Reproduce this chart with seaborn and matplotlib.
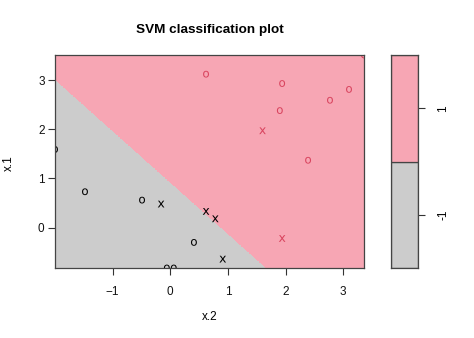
import numpy as np
import pandas as pd
import matplotlib
matplotlib.use("Agg")
import matplotlib.pyplot as plt
import seaborn as sns

# ---- data ----
x2_vals = [-2.00, -1.48, -0.49, -0.16, 0.62, 0.78, 0.41, 0.91, -0.06, 0.06,
           0.62, 1.94, 3.10, 2.77, 1.90, 1.60, 2.39, 1.94, 3.36]
x1_vals = [1.59, 0.73, 0.56, 0.48, 0.33, 0.18, -0.30, -0.64, -0.82, -0.82,
           3.12, 2.93, 2.81, 2.59, 2.38, 1.97, 1.37, -0.22, 3.51]
y_class = [-1, -1, -1, -1, -1, -1, -1, -1, -1, -1,
           1, 1, 1, 1, 1, 1, 1, 1, 1]
is_sv = [False, False, False, True, True, True, False, True, False, False,
         False, False, False, False, False, True, False, True, False]
# linear decision function f = w_x1*x.1 + w_x2*x.2 + b
w_x1 = 1.0
w_x2 = 1.046
b = -0.93
class_levels = [-1, 1]
x_ticks = [-1, 0, 1, 2, 3]
y_ticks = [0, 1, 2, 3]

fill_colors = {-1: "#CCCCCC", 1: "#F7A6B4"}
point_colors = {-1: "#000000", 1: "#D9455F"}

df = pd.DataFrame({"x.2": x2_vals, "x.1": x1_vals, "y": y_class,
                   "sym": ["x" if s else "o" for s in is_sv]})

plt.rcParams["font.family"] = ["Liberation Sans", "DejaVu Sans"]

fig = plt.figure(figsize=(4.74, 3.38), dpi=100)
ax = fig.add_axes([55/474, 1-268/338, 309/474, 213/338])
cax = fig.add_axes([391/474, 1-268/338, 27/474, 213/338])

xlim = (min(x2_vals), max(x2_vals))
ylim = (min(x1_vals), max(x1_vals))
gx = np.linspace(xlim[0], xlim[1], 400)
gy = np.linspace(ylim[0], ylim[1], 400)
GX, GY = np.meshgrid(gx, gy)
F = w_x1 * GY + w_x2 * GX + b
ax.contourf(GX, GY, np.where(F > 0, 1, -1), levels=[-2, 0, 2],
            colors=[fill_colors[-1], fill_colors[1]])

sns.scatterplot(data=df, x="x.2", y="x.1", hue="y", style="sym",
                markers={"o": r"$\mathsf{o}$", "x": r"$\mathsf{x}$"},
                palette=point_colors, s=24, linewidth=0, legend=False, ax=ax,
                clip_on=True)

ax.set_xlim(xlim)
ax.set_ylim(ylim)
ax.set_xticks(x_ticks)
ax.set_yticks(y_ticks)
ax.tick_params(axis="both", direction="out", length=5, width=0.8,
               color="#333333", labelsize=8.5, labelcolor="#111111")
ax.tick_params(axis="x", pad=8)
ax.tick_params(axis="y", pad=2.5)
for sp in ax.spines.values():
    sp.set_color("#444444")
    sp.set_linewidth(0.9)
ax.set_xlabel("x.2", fontsize=8.5)
ax.set_ylabel("x.1", fontsize=8.5)
ax.xaxis.set_label_coords((210-55)/309, (268-311)/213)
ax.yaxis.set_label_coords((15-55)/309, (268-163)/213)
ax.set_title("SVM classification plot", fontsize=9.7, fontweight="bold", pad=16)

# key (colour bar)
key_bottom = [-2, 0]
for c, bot in zip(class_levels, key_bottom):
    cax.bar(0, 2, bottom=bot, width=1, color=fill_colors[c],
            edgecolor="#444444", linewidth=0.9)
cax.set_xlim(-0.5, 0.5)
cax.set_ylim(-2, 2)
cax.set_xticks([])
cax.set_yticks([-1, 1])
cax.set_yticklabels([str(c) for c in class_levels], rotation=90, va="center")
cax.yaxis.tick_right()
cax.tick_params(axis="y", direction="out", length=5, width=0.8,
                color="#333333", labelsize=8.5, pad=9)
for sp in cax.spines.values():
    sp.set_color("#444444")
    sp.set_linewidth(0.9)

fig.savefig("out.png", dpi=100)
